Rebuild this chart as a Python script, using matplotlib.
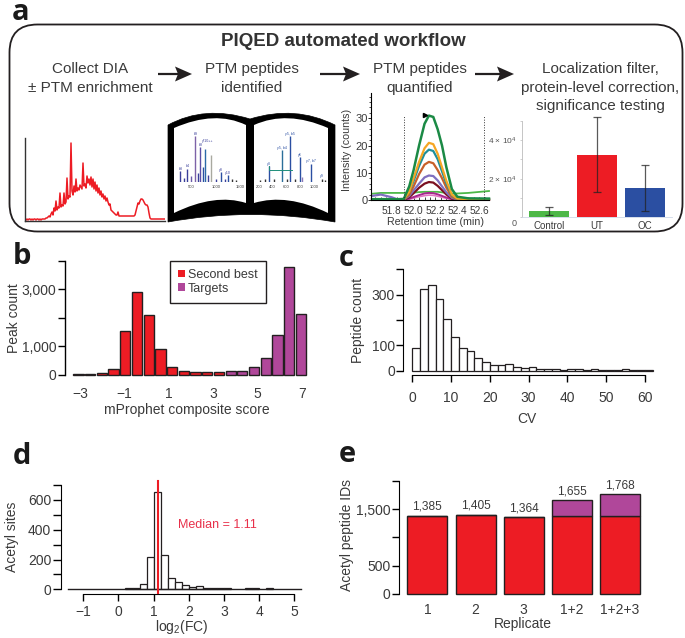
import numpy as np
import matplotlib
matplotlib.use("Agg")
import matplotlib.pyplot as plt
from matplotlib.patches import FancyBboxPatch, PathPatch, Patch, Polygon
from matplotlib.path import Path
from matplotlib.ticker import MultipleLocator
from matplotlib.transforms import ScaledTranslation

plt.rcParams['font.family'] = ['Liberation Sans', 'DejaVu Sans']
plt.rcParams['mathtext.default'] = 'regular'

# Colours
RED = "#ed1c24"
PURPLE = "#b0479a"
DARK = "#231f20"
TXT = "#3a3a3a"

# Panel a: raw DIA trace
dia_intensity = [1, 2, 1, 2, 2, 1, 2, 1, 2, 2, 1, 2, 2, 1, 2, 1, 2, 2, 2, 2, 3, 3,
                 4, 5, 4, 7, 9, 6, 13, 10, 20, 11, 14, 13, 28, 14, 16, 15, 28, 17, 19, 43, 22, 25, 24, 78,
                 30, 26, 35, 29, 42, 30, 33, 31, 36, 34, 32, 58, 35, 37, 33, 45, 38, 42, 36, 44, 34, 42, 32,
                 39, 30, 36, 28, 33, 26, 30, 24, 27, 22, 25, 20, 23, 19, 16, 17, 11, 10, 9, 8, 7, 6, 6, 9, 5,
                 5, 5, 5, 5, 5, 5, 5, 5, 5, 5, 5, 5, 5, 5, 5, 6, 10, 14, 18, 17, 20, 22, 22, 21, 19, 17, 16, 16,
                 14, 8, 3, 2, 2, 2, 2, 2, 2, 2, 2, 2, 2, 2, 2, 2, 2, 2, 2]

# Panel a: library spectra (m/z, height)
left_mz = [275, 340, 418, 500, 582, 640, 684, 730, 779, 840, 908, 1000, 1112, 1180, 1248, 1330, 1420]
left_h = [33, 12, 40, 18, 137, 28, 105, 45, 100, 20, 80, 10, 30, 8, 20, 8, 6]
left_col = ["#3a3f9a", "#3a3f9a", "#3a3f9a", "#6a5aa8", "#7d62a8", "#3a3f9a", "#5a50a8", "#2b4fa2", "#2b6aa8",
            "#3a3f9a", "#a9a9a0", "#3a3f9a", "#2b4fa2", "#3a3f9a", "#2b4fa2", "#333333", "#333333"]
right_mz = [220, 290, 350, 420, 535, 600, 650, 730, 790, 820, 960, 1110, 1160]
right_h = [6, 10, 48, 10, 95, 8, 137, 8, 75, 15, 55, 10, 6]
right_col = ["#333333", "#333333", "#2b4fa2", "#333333", "#2b6f9a", "#333333", "#2b4fa2", "#333333", "#2b4fa2",
             "#8a7ab8", "#2b4fa2", "#333333", "#333333"]

# Panel a: extracted ion chromatograms
rt = [51.62, 51.70, 51.80, 51.86, 51.91, 51.96, 52.00, 52.05, 52.10, 52.14, 52.18, 52.22, 52.26, 52.30, 52.35, 52.40, 52.50, 52.69]
xic_green = [0.3, 0.3, 0.3, 0.3, 0.4, 5, 11, 20, 28, 31, 30.5, 26, 20, 12, 4, 1.2, 0.6, 0.5]
xic_orange = [0.3, 0.3, 0.3, 0.3, 0.3, 3, 8, 14, 19, 21, 20.5, 17, 12, 7, 2, 0.5, 0.3, 0.3]
xic_teal = [0.2, 0.2, 0.2, 0.2, 0.3, 3, 7, 12.5, 17, 18.5, 18, 15, 10.5, 6, 1.8, 0.5, 0.4, 0.4]
xic_brown = [0.1, 0.1, 0.1, 0.1, 0.2, 2, 5, 9.5, 13, 14, 13.5, 11, 8, 4.5, 1.2, 0.3, 0.1, 0.1]
xic_purple = [1.5, 2.0, 1.0, 0.1, 0.2, 1.5, 3.5, 6, 8.3, 9, 8.8, 7.2, 5, 2.8, 0.8, 0.2, 0.1, 0.1]
xic_maroon = [0.1, 0.1, 0.1, 0.1, 0.1, 1, 2.5, 4.5, 6, 6.6, 6.4, 5.2, 3.6, 2, 0.5, 0.1, 0.1, 0.1]
xic_flat = [2.3, 2.6, 2.6, 2.6, 2.6, 2.6, 2.7, 2.9, 3.0, 3.0, 3.0, 3.0, 2.8, 2.6, 2.4, 2.4, 2.6, 3.3]
xic_magenta = [0.1, 0.1, 0.1, 0.1, 0.1, 0.5, 1.1, 1.8, 2.4, 2.6, 2.5, 2.1, 1.5, 0.9, 0.3, 0.1, 0.1, 0.1]
xic_pink = [0.1, 0.1, 0.1, 0.1, 0.1, 0.3, 0.7, 1.2, 1.6, 1.8, 1.7, 1.4, 1.0, 0.6, 0.2, 0.1, 0.1, 0.1]
xic_series = [(xic_flat, "#4db848", 1.3), (xic_pink, "#e377c2", 1.2), (xic_magenta, "#a8278f", 1.4),
              (xic_maroon, "#7a1020", 1.6), (xic_purple, "#7f6fc0", 1.6), (xic_brown, "#c8602a", 1.6),
              (xic_teal, "#1f8f9a", 1.6), (xic_orange, "#f5a623", 1.6), (xic_green, "#1b8a45", 1.8)]

# Panel a: significance bars
group_names = ["Control", "UT", "OC"]
group_vals = [3300, 32500, 15000]
group_low = [1200, 13100, 3300]
group_high = [5500, 51700, 27000]
group_cols = ["#4db848", RED, "#2b4fa2"]

# Panel b
score_left = [-3.3, -2.77, -2.24, -1.72, -1.19, -0.66, -0.14, 0.39, 0.92, 1.45, 1.97, 2.5, 3.03, 3.56, 4.08, 4.61, 5.14, 5.67, 6.19, 6.72]
score_count = [8, 8, 50, 210, 1540, 2920, 2090, 915, 270, 110, 100, 100, 100, 110, 140, 250, 590, 1380, 3790, 2140]
score_is_target = [0, 0, 0, 0, 0, 0, 0, 0, 0, 0, 0, 0, 0, 1, 1, 1, 1, 1, 1, 1]

# Panel c
cv_left = list(range(0, 62, 2))
cv_count = [88, 323, 340, 284, 203, 132, 88, 78, 49, 34, 22, 22, 28, 16, 9, 13, 8, 8, 5, 1,
            6, 6, 1, 6, 1, 1, 1, 7, 1, 1, 1]

# Panel d
fc_left = [0.2, 0.4, 0.6, 0.8, 1.0, 1.2, 1.4, 1.6, 1.8, 2.0, 2.2, 2.4, 2.6, 2.8, 3.0, 3.6, 3.8, 4.2]
fc_count = [8, 10, 34, 215, 651, 228, 74, 47, 27, 16, 22, 8, 7, 7, 6, 6, 6, 6]
fc_median = 1.11

# Panel e
replicates = ["1", "2", "3", "1+2", "1+2+3"]
rep_red = [1385, 1405, 1364, 1385, 1385]
rep_total = [1385, 1405, 1364, 1655, 1768]

W, H = 685, 638
fig = plt.figure(figsize=(W / 100, H / 100), dpi=100)

# overlay in picture pixels, for the workflow drawing and the letters
ov = fig.add_axes([0, 0, 1, 1])
ov.set_xlim(0, W)
ov.set_ylim(H, 0)
ov.axis("off")


def px_axes(x0, x1, ybot, ytop):
    a = fig.add_axes([x0 / W, 1 - ybot / H, (x1 - x0) / W, (ybot - ytop) / H])
    a.patch.set_visible(False)
    for s in ["top", "right"]:
        a.spines[s].set_visible(False)
    return a


def pts(p):
    return p * 72 / 100


def label_at(a, xlabel, xpos, ylabel, ypos, size=10):
    a.set_xlabel(xlabel, fontsize=size, color=TXT)
    a.xaxis.set_label_coords(xpos[0], xpos[1], transform=ov.transData)
    a.xaxis.label.set_va("center")
    a.set_ylabel(ylabel, fontsize=size, color=TXT)
    a.yaxis.set_label_coords(ypos[0], ypos[1], transform=ov.transData)
    a.yaxis.label.set_va("center")


# panel letters
for letter, x, y in [("a", 21, 13), ("b", 22, 257), ("c", 346, 259), ("d", 22, 457), ("e", 347, 455)]:
    ov.text(x, y, letter, fontsize=21, fontweight="bold", family="Open Sans", color="#1a1a1a", ha="center", va="center")

# rounded frame
ov.add_patch(FancyBboxPatch((9.5, 24.5), 673, 207, boxstyle="round,pad=0,rounding_size=28",
                            fc="white", ec=DARK, lw=1.3))

ov.text(343, 41, "PIQED automated workflow", fontsize=13.5, fontweight="bold", color="#333333", ha="center", va="center")
steps = [(90, 69, "Collect DIA"), (90, 88, "± PTM enrichment"), (252, 69, "PTM peptides"), (252, 88, "identified"),
         (420, 69, "PTM peptides"), (420, 88, "quantified"), (600, 69, "Localization filter,"),
         (600, 88, "protein-level correction,"), (600, 106, "significance testing")]
for x, y, s in steps:
    ov.text(x, y, s, fontsize=11, color=TXT, ha="center", va="center")
for x0, x1 in [(158, 192), (320, 360), (475, 514)]:
    ov.plot([x0, x1 - 12], [74, 74], color=DARK, lw=1.6, solid_capstyle="butt")
    ov.add_patch(Polygon([(x1, 74), (x1 - 17, 66.5), (x1 - 14, 74), (x1 - 17, 81.5)], fc=DARK, ec="none"))

# DIA trace
ax1 = px_axes(25, 165, 221, 138)
ax1.plot(np.arange(len(dia_intensity)) + 1, dia_intensity, color=RED, lw=1.1)
ax1.set_xlim(0, 140)
ax1.set_ylim(0, 83)
ax1.set_xticks([])
ax1.set_yticks([])
for s in ["left", "bottom"]:
    ax1.spines[s].set_color("#333333")
    ax1.spines[s].set_linewidth(1.0)

# Book
C3 = Path.CURVE3
M, L = Path.MOVETO, Path.LINETO
book = Path([(168, 125), (205, 105), (250, 119), (295, 105), (335, 125), (335, 222), (250, 207), (168, 222), (168, 125)],
            [M, C3, C3, C3, C3, L, C3, C3, L])
ov.add_patch(PathPatch(book, fc="black", ec="black", lw=0.5, zorder=3))
page_l = Path([(174, 128), (215, 110), (246, 125), (246, 203), (215, 193), (174, 213), (174, 128)],
              [M, C3, C3, L, C3, C3, L])
page_r = Path([(254, 125), (287, 110), (328, 128), (328, 213), (287, 193), (254, 203), (254, 125)],
              [M, C3, C3, L, C3, C3, L])
for p in [page_l, page_r]:
    ov.add_patch(PathPatch(p, fc="white", ec="none", zorder=4))

ax_l = fig.add_axes([175 / W, 1 - 182 / H, 71 / W, 50 / H], zorder=5)
ax_l.axis("off")
ax_l.vlines(left_mz, 0, left_h, colors=left_col, lw=1.0)
ax_l.plot([0, 1500], [0, 0], color="#333333", lw=0.7)
ax_l.set_xlim(165, 1615)
ax_l.set_ylim(0, 150)
for mz, lab in [(500, "500"), (1000, "1000"), (1500, "1500")]:
    ax_l.text(mz, -14, lab, fontsize=3, color=TXT, ha="center", va="center")
for mz, h, lab in [(275, 40, "b3"), (418, 47, "b4"), (582, 144, "b9"), (830, 122, "y*10++"), (684, 110, "b8"), (1112, 37, "y8"), (1248, 27, "y10")]:
    ax_l.text(mz, h, lab, fontsize=2.6, color="#3a3f9a", ha="center", va="center")

ax_r = fig.add_axes([254 / W, 1 - 182 / H, 74 / W, 50 / H], zorder=5)
ax_r.axis("off")
ax_r.vlines(right_mz, 0, right_h, colors=right_col, lw=1.0)
ax_r.plot([150, 1200], [0, 0], color="#333333", lw=0.7)
ax_r.plot([350, 350, 680], [48, 37, 37], color="#1f8f7a", lw=0.7)
ax_r.set_xlim(130, 1200)
ax_r.set_ylim(0, 150)
for mz in [200, 400, 600, 800, 1000]:
    ax_r.text(mz, -14, str(mz), fontsize=3, color=TXT, ha="center", va="center")
for mz, h, lab in [(350, 48, "y3"), (535, 95, "y5, b4"), (650, 137, "y5, b5"), (790, 75, "y6"), (960, 55, "y7, b7"), (1110, 10, "y9")]:
    ax_r.text(mz, h + 7, lab, fontsize=2.6, color="#2b4fa2", ha="center", va="center")

# Chromatogram
ax2 = px_axes(371, 489, 200, 93)
for vals, col, lw in xic_series:
    ax2.plot(rt, vals, color=col, lw=lw, clip_on=False)
ax2.plot(52.1, 31.3, marker=">", ms=3, color="black", clip_on=False)
ax2.vlines([51.91, 52.64], 0, 30.8, colors="#333333", lw=0.7, linestyles=":")
ax2.set_xlim(51.61, 52.69)
ax2.set_ylim(0, 39.3)
ax2.spines["bottom"].set_linewidth(0.8)
ax2.spines["left"].set_linewidth(0.8)
ax2.set_yticks([0, 10, 20, 30])
ax2.yaxis.set_minor_locator(MultipleLocator(2))
ax2.set_xticks([51.8, 52.0, 52.2, 52.4, 52.6])
ax2.xaxis.set_minor_locator(MultipleLocator(0.05))
ax2.tick_params(axis="x", which="both", direction="in", length=2, width=0.5, labelsize=7.3, labelcolor=TXT, pad=4)
ax2.tick_params(axis="y", which="major", length=2, width=0.6, labelsize=8, labelcolor=TXT, pad=0.5)
ax2.tick_params(axis="y", which="minor", length=1.5, width=0.5)
ax2.set_xticklabels(["51.8", "52.0", "52.2", "52.4", "52.6"])
label_at(ax2, "Retention time (min)", (436, 222), "Intensity (counts)", (347, 150), size=7.7)

# Group bars
ax3 = px_axes(521.7, 672, 217.3, 120.7)
pos = [0, 1, 2]
ax3.bar(pos, group_vals, width=0.84, color=group_cols, edgecolor="none")
ax3.vlines(pos, group_low, group_high, colors="#222222", lw=0.9, alpha=0.75, clip_on=False)
ax3.hlines(group_low + group_high, [p - 0.09 for p in pos] * 2, [p + 0.09 for p in pos] * 2,
           colors="#222222", lw=0.9, alpha=0.75, clip_on=False)
ax3.set_xlim(-0.57, 2.56)
ax3.set_ylim(0, 50000)
ax3.set_xticks(pos)
ax3.set_xticklabels(group_names, fontsize=7, color=TXT)
ax3.set_yticks([0, 10000, 20000, 30000, 40000, 50000])
ax3.set_yticklabels(["0", "", "2 × 10$^4$", "", "4 × 10$^4$", ""], fontsize=6, color="#555555")
ax3.tick_params(axis="x", length=0, pad=2.5)
ax3.tick_params(axis="y", length=1.5, width=0.5, color="#bbbbbb", pad=2)
zero_lab = ax3.yaxis.get_ticklabels()[0]
zero_lab.set_fontsize(6.5)
zero_lab.set_transform(zero_lab.get_transform() + ScaledTranslation(0, -5.4 / 100, fig.dpi_scale_trans))
ax3.spines["left"].set_color("#bbbbbb")
ax3.spines["left"].set_linewidth(0.6)
ax3.spines["bottom"].set_color("#cfd8e8")
ax3.spines["bottom"].set_linewidth(0.6)

# Panel b
axb = px_axes(65, 310, 374.5, 261)
b_cols = [PURPLE if t else RED for t in score_is_target]
axb.bar(score_left, score_count, width=0.46, align="edge", color=b_cols, edgecolor=DARK, linewidth=1.0, clip_on=False)
axb.set_xlim(-3.68, 7.36)
axb.set_ylim(0, 4000)
axb.set_xticks([-3, -1, 1, 3, 5, 7])
axb.set_xticklabels(["\u22123", "\u22121", "1", "3", "5", "7"])
axb.set_yticks([0, 1000, 2000, 3000, 4000])
axb.set_yticklabels(["0", "1,000", "", "3,000", ""])
axb.spines["bottom"].set_visible(False)
axb.spines["left"].set_linewidth(1.0)
axb.tick_params(axis="x", length=0, labelsize=10, labelcolor=TXT, pad=9)
axb.tick_params(axis="y", length=pts(7), width=1.0, labelsize=10, labelcolor=TXT, pad=1)
label_at(axb, "mProphet composite score", (187, 410), "Peak count", (14, 318))
axb.legend(handles=[Patch(fc=RED, label="Second best"), Patch(fc=PURPLE, label="Targets")],
           loc="upper left", bbox_to_anchor=(170, 261), bbox_transform=ov.transData, borderaxespad=0,
           fontsize=9, fancybox=False, edgecolor=DARK, framealpha=1, handlelength=0.55, handleheight=0.55,
           handletextpad=0.25, labelspacing=0.12, borderpad=0.65, labelcolor=TXT)
axb.get_legend().get_frame().set_linewidth(1.0)

# Panel c
axc = px_axes(403.3, 660, 370.7, 269.3)
axc.bar(cv_left, cv_count, width=2, align="edge", color="white", edgecolor=DARK, linewidth=0.9, clip_on=False)
axc.set_xlim(-2.32, 63.9)
axc.set_ylim(0, 400)
axc.set_xticks(range(0, 61, 10))
axc.set_yticks([0, 100, 200, 300, 400])
axc.set_yticklabels(["0", "100", "", "300", ""])
axc.spines["bottom"].set_position(("outward", pts(4.5)))
axc.spines["bottom"].set_bounds(0, 60)
axc.tick_params(axis="x", length=pts(7), width=1.0, labelsize=10, labelcolor=TXT, pad=6)
axc.tick_params(axis="y", length=pts(7), width=1.0, labelsize=10, labelcolor=TXT, pad=1)
label_at(axc, "CV", (527, 419), "Peptide count", (358, 320))

# Panel d
axd = px_axes(60.7, 305, 589.3, 485)
axd.bar(fc_left, fc_count, width=0.2, align="edge", color="white", edgecolor=DARK, linewidth=0.9, clip_on=False)
axd.plot([-1.43, 5.18], [0, 0], color=DARK, lw=1.0, clip_on=False)
axd.plot([fc_median, fc_median], [-27, 729], color=RED, lw=1.5, clip_on=False, zorder=5)
axd.text(2.8, 431, "Median = 1.11", color="#e8304a", fontsize=9, ha="center", va="center")
axd.set_xlim(-1.64, 5.3)
axd.set_ylim(0, 700)
axd.set_xticks(range(-1, 6))
axd.set_xticklabels(["\u22121", "0", "1", "2", "3", "4", "5"])
axd.set_yticks(range(0, 701, 100))
axd.set_yticklabels(["0", "", "200", "", "400", "", "600", ""])
axd.spines["bottom"].set_position(("outward", pts(4.5)))
axd.spines["bottom"].set_bounds(-1, 5)
axd.tick_params(axis="x", length=pts(7), width=1.0, labelsize=10, labelcolor=TXT, pad=3)
axd.tick_params(axis="y", length=pts(8), width=1.0, labelsize=10, labelcolor=TXT, pad=1)
label_at(axd, "log$_2$(FC)", (182, 627), "Acetyl sites", (12, 537))

# Panel e
axe = px_axes(399, 645, 593.7, 481)
rep_pos = np.arange(len(replicates))
rep_extra = [t - r for t, r in zip(rep_total, rep_red)]
axe.bar(rep_pos, rep_red, width=0.83, color=RED, edgecolor=DARK, linewidth=1.0, clip_on=False)
axe.bar(rep_pos, rep_extra, bottom=rep_red, width=0.83, color=PURPLE, edgecolor=DARK, linewidth=1.0)
for p, t in zip(rep_pos, rep_total):
    axe.text(p, t + 50, f"{t:,}", fontsize=8.6, color=TXT, ha="center", va="bottom")
axe.set_xlim(-0.59, 4.52)
axe.set_ylim(0, 2000)
axe.set_xticks(rep_pos)
axe.set_xticklabels(replicates)
axe.set_yticks([0, 500, 1000, 1500, 2000])
axe.set_yticklabels(["0", "500", "", "1,500", ""])
axe.spines["bottom"].set_visible(False)
axe.tick_params(axis="x", length=0, labelsize=10, labelcolor=TXT, pad=7)
axe.tick_params(axis="y", length=pts(7), width=1.0, labelsize=10, labelcolor=TXT, pad=1)
label_at(axe, "Replicate", (523, 624), "Acetyl peptide IDs", (347, 535))

fig.savefig("out.png", dpi=100)
